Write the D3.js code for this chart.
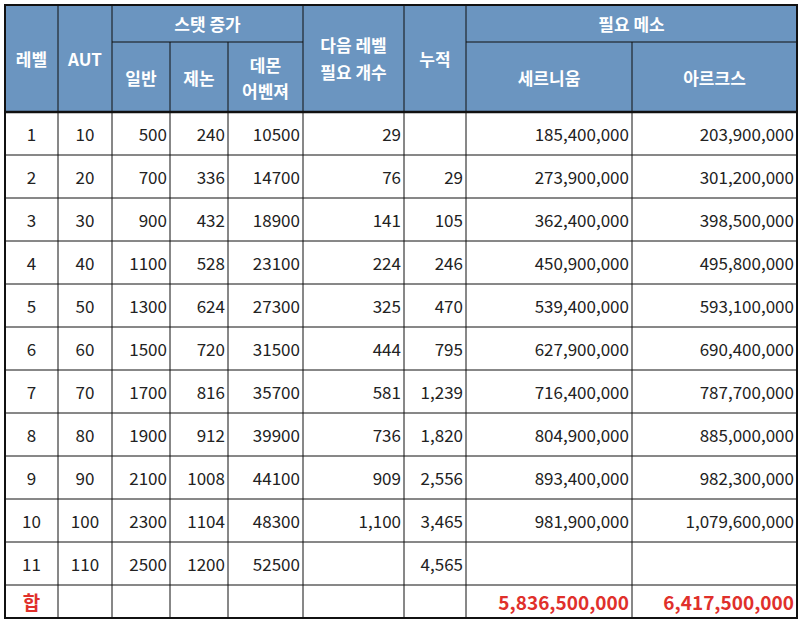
<!DOCTYPE html>
<html><head><meta charset="utf-8">
<script src="https://cdn.jsdelivr.net/npm/d3@7"></script>
<style>body{margin:0;background:#fff}</style>
</head><body>
<svg id="t" width="800" height="623"></svg>
<script>
// data
const levels = [1,2,3,4,5,6,7,8,9,10,11];
const aut = [10,20,30,40,50,60,70,80,90,100,110];
const normal = [500,700,900,1100,1300,1500,1700,1900,2100,2300,2500];
const xenon = [240,336,432,528,624,720,816,912,1008,1104,1200];
const demon = [10500,14700,18900,23100,27300,31500,35700,39900,44100,48300,52500];
const nextNeed = [29,76,141,224,325,444,581,736,909,1100,null];
const cumul = [null,29,105,246,470,795,1239,1820,2556,3465,4565];
const cernium = [185400000,273900000,362400000,450900000,539400000,627900000,716400000,804900000,893400000,981900000,null];
const arcus = [203900000,301200000,398500000,495800000,593100000,690400000,787700000,885000000,982300000,1079600000,null];
const totals = ["5,836,500,000","6,417,500,000"];

const colEdges = [5,58,112,170,228,303,404,466,632,797];
const svg = d3.select("#t");
const font = "'Malgun Gothic','Noto Sans CJK KR',sans-serif";
const headFill = "#6b95c0";
const yTop = 5, yMid = 42, headBottom = 112, bodyBottom = 585, yBottom = 618;

const y = d3.scaleBand().domain(levels).range([headBottom, bodyBottom]);
const fmt = d3.format(",");

// header background
svg.append("rect").attr("x",colEdges[0]).attr("y",yTop).attr("width",colEdges[9]-colEdges[0]).attr("height",headBottom-yTop).attr("fill",headFill);

function txt(x, yy, s, anchor, opts={}) {
  return svg.append("text").attr("x",x).attr("y",yy).attr("text-anchor",anchor)
    .attr("dominant-baseline","central").attr("font-family",font)
    .attr("font-size",opts.size||17).attr("fill",opts.fill||"#222")
    .attr("font-weight",opts.bold?"bold":"normal").text(s);
}
function line(x1,y1,x2,y2,w){svg.append("line").attr("x1",x1).attr("y1",y1).attr("x2",x2).attr("y2",y2).attr("stroke","#111").attr("stroke-width",w||1);}

const cx = i => (colEdges[i]+colEdges[i+1])/2;
const W = {fill:"#fff", bold:true, size:17};
txt(cx(0),(yTop+headBottom)/2,"레벨","middle",W);
txt(cx(1),(yTop+headBottom)/2,"AUT","middle",W);
txt((colEdges[2]+colEdges[5])/2,(yTop+yMid)/2,"스탯 증가","middle",W);
txt(cx(2),(yMid+headBottom)/2,"일반","middle",W);
txt(cx(3),(yMid+headBottom)/2,"제논","middle",W);
txt(cx(4),(yMid+headBottom)/2-13,"데몬","middle",W);
txt(cx(4),(yMid+headBottom)/2+13,"어벤져","middle",W);
txt(cx(5),(yTop+headBottom)/2-14,"다음 레벨","middle",W);
txt(cx(5),(yTop+headBottom)/2+13,"필요 개수","middle",W);
txt(cx(6),(yTop+headBottom)/2,"누적","middle",W);
txt((colEdges[7]+colEdges[9])/2,(yTop+yMid)/2,"필요 메소","middle",W);
txt(cx(7),(yMid+headBottom)/2,"세르니움","middle",W);
txt(cx(8),(yMid+headBottom)/2,"아르크스","middle",W);

// body
const cols = [levels,aut,normal,xenon,demon,nextNeed,cumul,cernium,arcus];
levels.forEach((lv,r) => {
  const yy = y(lv)+y.bandwidth()/2;
  cols.forEach((arr,c) => {
    const v = arr[r];
    if (v==null) return;
    if (c<2) txt(cx(c),yy,v,"middle");
    else txt(colEdges[c+1]-3,yy,(c>=5?fmt(v):v),"end");
  });
});
// total row
const ty = (bodyBottom+yBottom)/2;
txt(cx(0),ty,"합","middle",{fill:"#e0302b",bold:true,size:19});
txt(colEdges[8]-3,ty,totals[0],"end",{fill:"#e0302b",bold:true,size:19});
txt(colEdges[9]-3,ty,totals[1],"end",{fill:"#e0302b",bold:true,size:19});

// grid lines
levels.slice(1).forEach(lv => line(colEdges[0],y(lv),colEdges[9],y(lv)));
line(colEdges[0],bodyBottom,colEdges[9],bodyBottom);
colEdges.slice(1,-1).forEach((x,i) => {
  const c = i+1;
  const yStart = (c===3||c===4||c===8) ? yMid : yTop;
  line(x,yStart,x,yBottom);
});
line(colEdges[2],yMid,colEdges[5],yMid);
line(colEdges[7],yMid,colEdges[9],yMid);
line(colEdges[0],headBottom,colEdges[9],headBottom,2.5);
svg.append("rect").attr("x",colEdges[0]).attr("y",yTop).attr("width",colEdges[9]-colEdges[0]).attr("height",yBottom-yTop).attr("fill","none").attr("stroke","#111").attr("stroke-width",2);
</script>
</body></html>
